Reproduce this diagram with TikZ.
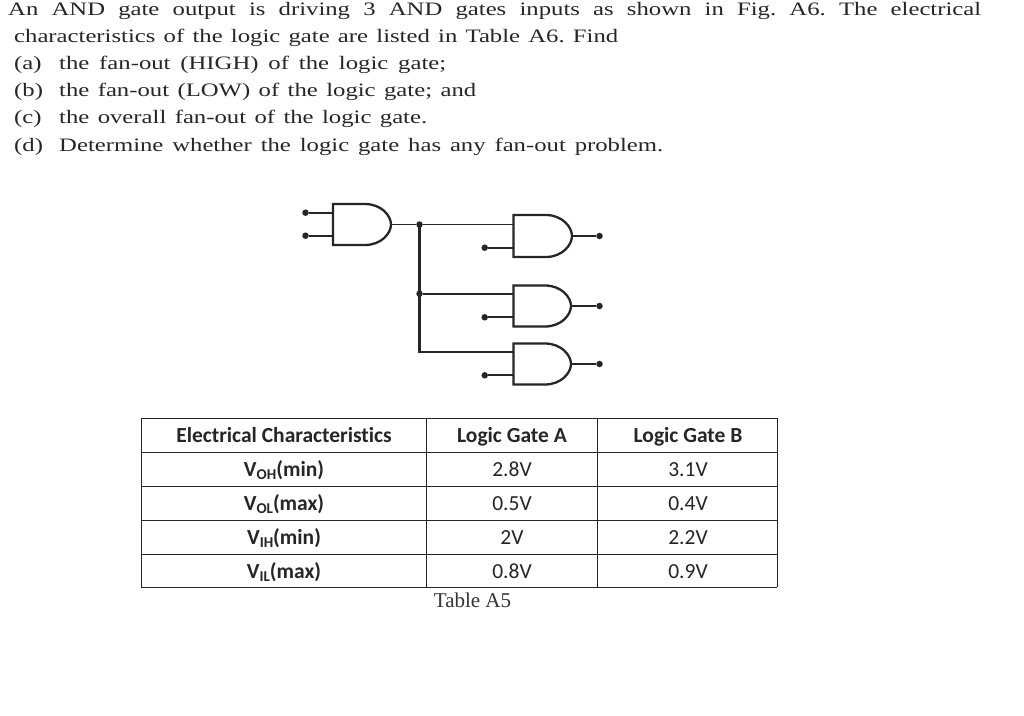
\documentclass[tikz,border=0pt]{standalone}
\usepackage{fontspec}
\setmainfont{Liberation Serif}
\newfontfamily\parafont[FakeStretch=1.3]{Liberation Serif}
\newfontfamily\tablefont[Ligatures=NoCommon]{Carlito}
\tikzset{
  x=1pt,y=-1pt,
  wire/.style={line width=1.9pt,black!85},
  bus/.style={line width=2.8pt,black!85},
  gateline/.style={line width=2.3pt,black!85,line join=miter},
  dot/.style={circle,fill=black!85,inner sep=0pt,minimum width=6.5pt},
  tline/.style={line width=1pt,black!85},
  para/.style={anchor=base west,inner sep=0pt,font=\frenchspacing\parafont\fontsize{19}{19}\selectfont,text=black!85},
  thead/.style={anchor=base,inner sep=0pt,font=\tablefont\bfseries\fontsize{21.5}{21.5}\selectfont,text=black!85},
  tcell/.style={anchor=base,inner sep=0pt,font=\tablefont\fontsize{21.5}{21.5}\selectfont,text=black!85},
  caption/.style={anchor=base,inner sep=0pt,font=\fontsize{21}{21}\selectfont,text=black!80}
}
\newcommand{\andgate}[6]{% name, left, top, bottom, tip, shoulder
  \pgfmathsetmacro{\gmid}{(#3+#4)/2}
  \pgfmathsetmacro{\gctrl}{#6+(#5-#6)*0.62}
  \coordinate (#1) at (#2,\gmid);
  \coordinate (#1out) at (#5,\gmid);
  \draw[gateline] (#2,#3) -- (#6,#3) .. controls (\gctrl,#3) and (#5,{\gmid-9}) .. (#5,\gmid)
    .. controls (#5,{\gmid+9}) and (\gctrl,#4) .. (#6,#4) -- (#2,#4) -- cycle;
}
\newcommand{\vsub}[2]{V\raisebox{-0.16em}{\fontsize{15}{15}\selectfont #1}(#2)}
\begin{document}
\begin{tikzpicture}
\useasboundingbox[fill=white] (0,0) rectangle (1024,715);
% text
\node[para] (l1) at (8,15) {\makebox[973pt][s]{An AND gate output is driving 3 AND gates inputs as shown in Fig. A6. The electrical}};
\node[para] (l2) at (14,42) {\makebox[604pt][s]{characteristics of the logic gate are listed in Table A6. Find}};
\node[para] (l3a) at (14,69) {(a)};
\node[para] (l3) at (59,69) {\makebox[387pt][s]{the fan-out (HIGH) of the logic gate;}};
\node[para] (l4a) at (14,96) {(b)};
\node[para] (l4) at (59,96) {\makebox[417pt][s]{the fan-out (LOW) of the logic gate; and}};
\node[para] (l5a) at (14,123) {(c)};
\node[para] (l5) at (59,123) {\makebox[368pt][s]{the overall fan-out of the logic gate.}};
\node[para] (l6a) at (14,151) {(d)};
\node[para] (l6) at (59,151) {\makebox[604pt][s]{Determine whether the logic gate has any fan-out problem.}};
% gates
\andgate{g0}{333}{204}{245}{391}{365}
\andgate{g1}{513.5}{215}{257}{572}{546}
\andgate{g2}{513.5}{285.5}{326.5}{571}{545}
\andgate{g3}{513.5}{343.5}{384.5}{571}{545}
% terminals and junctions
\node[dot] (a1) at (305.5,212.7) {};
\node[dot] (a2) at (305.5,235.7) {};
\node[dot] (j1) at (419.5,224.5) {};
\node[dot] (j2) at (419.5,293.7) {};
\coordinate (j3) at (419.5,352);
\node[dot] (b1) at (484.7,247.7) {};
\node[dot] (b2) at (484.7,317.3) {};
\node[dot] (b3) at (484.7,375.3) {};
\node[dot] (o1) at (599.5,236) {};
\node[dot] (o2) at (599.5,306) {};
\node[dot] (o3) at (599.5,364) {};
% connectors
\draw[wire] (a1) -- (a1-|g0);
\draw[wire] (a2) -- (a2-|g0);
\draw[wire] (g0out) -- (j1);
\draw[wire] (j1) -- (j1-|g1);
\draw[wire] (j2) -- (j2-|g2);
\draw[bus] (j1.center) -- (j2.center) -- (j3) -- (j3-|g3);
\draw[wire] (b1) -- (b1-|g1);
\draw[wire] (b2) -- (b2-|g2);
\draw[wire] (b3) -- (b3-|g3);
\draw[wire] (g1out) -- (o1);
\draw[wire] (g2out) -- (o2);
\draw[wire] (g3out) -- (o3);
% table
\foreach \yy in {418,452,486,520,554,587} \draw[tline] (141,\yy) -- (777,\yy);
\foreach \xx in {141,426,597,777} \draw[tline] (\xx,418) -- (\xx,587);
\node[thead] (h1) at (284,442) {Electrical Characteristics};
\node[thead] (h2) at (512,442) {Logic Gate A};
\node[thead] (h3) at (688,442) {Logic Gate B};
\node[thead] (r1) at (284,476) {\vsub{OH}{min}};
\node[thead] (r2) at (284,510) {\vsub{OL}{max}};
\node[thead] (r3) at (284,544) {\vsub{IH}{min}};
\node[thead] (r4) at (284,578) {\vsub{IL}{max}};
\node[tcell] (a1v) at (512,476) {2.8V};
\node[tcell] (a2v) at (512,510) {0.5V};
\node[tcell] (a3v) at (512,544) {2V};
\node[tcell] (a4v) at (512,578) {0.8V};
\node[tcell] (b1v) at (688,476) {3.1V};
\node[tcell] (b2v) at (688,510) {0.4V};
\node[tcell] (b3v) at (688,544) {2.2V};
\node[tcell] (b4v) at (688,578) {0.9V};
\node[caption] (cap) at (472.5,607) {Table A5};
\end{tikzpicture}
\end{document}
